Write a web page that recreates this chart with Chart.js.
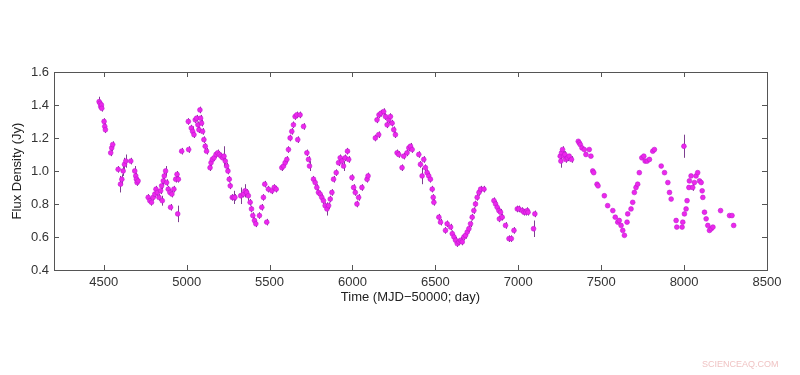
<!DOCTYPE html>
<html>
<head>
<meta charset="utf-8">
<script src="https://cdn.jsdelivr.net/npm/chart.js@4"></script>
<style>
  html, body { margin: 0; padding: 0; background: #fff; }
  #wrap { position: relative; width: 800px; height: 375px; }
  #mark { position: absolute; left: 702px; top: 359px; font: 9px "Liberation Sans", Arial, sans-serif; line-height: 10px; color: #f0c4c4; }
</style>
</head>
<body>
<div id="wrap">
  <canvas id="fluxChart" width="800" height="375"></canvas>
  <div id="mark">SCIENCEAQ.COM</div>
</div>
<script>
const days = [
  4472, 4478, 4482, 4486, 4488, 4502, 4506, 4510, 4542, 4548,
  4554, 4587, 4601, 4609, 4617, 4625, 4633, 4663, 4687, 4693,
  4697, 4701, 4707, 4768, 4778, 4788, 4798, 4808, 4815, 4823,
  4833, 4843, 4849, 4853, 4859, 4865, 4873, 4879, 4889, 4899,
  4903, 4911, 4923, 4934, 4942, 4946, 4950, 4970, 5010, 5012,
  5028, 5036, 5044, 5052, 5060, 5068, 5074, 5080, 5084, 5090,
  5096, 5104, 5112, 5120, 5141, 5147, 5155, 5165, 5177, 5187,
  5197, 5207, 5217, 5225, 5233, 5241, 5249, 5257, 5263, 5275,
  5283, 5291, 5326, 5342, 5352, 5362, 5372, 5383, 5391, 5399,
  5409, 5417, 5439, 5453, 5463, 5471, 5483, 5493, 5514, 5528,
  5540, 5574, 5584, 5594, 5604, 5614, 5624, 5634, 5644, 5654,
  5664, 5670, 5684, 5705, 5725, 5735, 5741, 5765, 5775, 5785,
  5795, 5805, 5815, 5825, 5835, 5846, 5856, 5866, 5876, 5886,
  5902, 5916, 5926, 5936, 5946, 5956, 5970, 5977, 5997, 6007,
  6017, 6027, 6037, 6057, 6088, 6094, 6138, 6148, 6158, 6160,
  6172, 6188, 6199, 6209, 6219, 6229, 6239, 6249, 6259, 6269,
  6279, 6299, 6309, 6329, 6340, 6350, 6360, 6400, 6410, 6420,
  6430, 6440, 6450, 6460, 6470, 6481, 6487, 6491, 6521, 6531,
  6561, 6571, 6592, 6602, 6612, 6622, 6632, 6642, 6652, 6662,
  6672, 6682, 6692, 6702, 6712, 6722, 6732, 6742, 6752, 6763,
  6773, 6793, 6853, 6863, 6873, 6883, 6886, 6893, 6903, 6923,
  6944, 6958, 6974, 6994, 7004, 7024, 7034, 7045, 7054, 7059,
  7092, 7100, 7253, 7257, 7261, 7267, 7273, 7281, 7287, 7297,
  7307, 7321, 7362, 7368, 7374, 7384, 7398, 7408, 7428, 7438,
  7449, 7455, 7475, 7481, 7519, 7539, 7570, 7585, 7600, 7609,
  7620, 7630, 7640, 7656, 7660, 7680, 7690, 7700, 7710, 7720,
  7730, 7745, 7757, 7765, 7777, 7791, 7811, 7821, 7862, 7882,
  7902, 7912, 7922, 7952, 7956, 7988, 7992, 7999, 8002, 8012,
  8018, 8029, 8032, 8042, 8052, 8062, 8072, 8082, 8093, 8103,
  8109, 8113, 8123, 8133, 8143, 8153, 8164, 8174, 8220, 8274,
  8289, 8299
];
const flux = [
  1.42, 1.41, 1.39, 1.40, 1.38, 1.30, 1.27, 1.25, 1.11, 1.14,
  1.16, 1.01, 0.92, 0.95, 1.00, 1.04, 1.06, 1.06, 1.00, 0.97,
  0.95, 0.93, 0.94, 0.84, 0.82, 0.81, 0.84, 0.86, 0.89, 0.87,
  0.84, 0.88, 0.91, 0.82, 0.94, 0.97, 1.00, 0.93, 0.89, 0.87,
  0.78, 0.86, 0.89, 0.95, 0.98, 0.74, 0.95, 1.12, 1.30, 1.13,
  1.26, 1.24, 1.22, 1.31, 1.32, 1.28, 1.25, 1.37, 1.32, 1.29,
  1.24, 1.19, 1.15, 1.12, 1.02, 1.05, 1.07, 1.08, 1.10, 1.11,
  1.10, 1.09, 1.08, 1.09, 1.06, 1.03, 1.00, 0.95, 0.91, 0.84,
  0.84, 0.84, 0.85, 0.86, 0.88, 0.87, 0.85, 0.81, 0.77, 0.73,
  0.70, 0.68, 0.73, 0.78, 0.84, 0.92, 0.69, 0.89, 0.88, 0.90,
  0.89, 1.02, 1.03, 1.05, 1.07, 1.13, 1.20, 1.24, 1.28, 1.33,
  1.34, 1.19, 1.34, 1.27, 1.11, 1.07, 1.03, 0.95, 0.93, 0.90,
  0.87, 0.86, 0.84, 0.82, 0.79, 0.77, 0.79, 0.83, 0.87, 0.95,
  0.99, 1.05, 1.08, 1.06, 1.03, 1.08, 1.12, 1.07, 0.96, 0.90,
  0.87, 0.80, 0.84, 0.90, 0.95, 0.97, 1.20, 1.31, 1.22, 1.34,
  1.35, 1.36, 1.33, 1.28, 1.31, 1.33, 1.29, 1.25, 1.22, 1.11,
  1.10, 1.02, 1.09, 1.11, 1.14, 1.15, 1.13, 1.10, 1.04, 0.97,
  1.07, 1.02, 0.99, 0.97, 0.95, 0.89, 0.84, 0.81, 0.72, 0.69,
  0.64, 0.68, 0.66, 0.62, 0.60, 0.58, 0.56, 0.57, 0.58, 0.57,
  0.60, 0.61, 0.63, 0.65, 0.68, 0.72, 0.76, 0.80, 0.84, 0.87,
  0.89, 0.89, 0.82, 0.80, 0.78, 0.76, 0.71, 0.75, 0.72, 0.67,
  0.59, 0.59, 0.64, 0.77, 0.77, 0.76, 0.75, 0.75, 0.76, 0.75,
  0.65, 0.74, 1.09, 1.06, 1.11, 1.13, 1.09, 1.10, 1.07, 1.08,
  1.09, 1.07, 1.18, 1.17, 1.16, 1.14, 1.13, 1.10, 1.13, 1.09,
  1.00, 0.99, 0.92, 0.91, 0.85, 0.79, 0.76, 0.72, 0.69, 0.70,
  0.67, 0.64, 0.61, 0.69, 0.74, 0.77, 0.81, 0.87, 0.90, 0.92,
  0.99, 1.08, 1.09, 1.06, 1.06, 1.07, 1.12, 1.13, 1.03, 0.99,
  0.93, 0.87, 0.83, 0.70, 0.66, 0.66, 0.69, 1.15, 0.74, 0.77,
  0.82, 0.90, 0.94, 0.97, 0.90, 0.93, 0.97, 0.99, 0.94, 0.93,
  0.88, 0.84, 0.75, 0.71, 0.67, 0.64, 0.65, 0.66, 0.76, 0.73,
  0.73, 0.67
];
const fluxErr = [
  0.03, 0.02, 0.02, 0.02, 0.02, 0.02, 0.02, 0.02, 0.02, 0.02,
  0.02, 0.02, 0.05, 0.03, 0.03, 0.04, 0.04, 0.02, 0.03, 0.02,
  0.02, 0.02, 0.02, 0.02, 0.02, 0.02, 0.02, 0.02, 0.02, 0.02,
  0.02, 0.02, 0.02, 0.03, 0.03, 0.04, 0.03, 0.02, 0.02, 0.02,
  0.02, 0.02, 0.02, 0.02, 0.02, 0.05, 0.02, 0.02, 0.02, 0.02,
  0.02, 0.03, 0.02, 0.02, 0.02, 0.02, 0.02, 0.02, 0.02, 0.02,
  0.02, 0.02, 0.02, 0.02, 0.02, 0.02, 0.02, 0.02, 0.02, 0.02,
  0.02, 0.02, 0.02, 0.06, 0.02, 0.02, 0.02, 0.02, 0.02, 0.02,
  0.04, 0.02, 0.05, 0.02, 0.04, 0.02, 0.03, 0.02, 0.02, 0.02,
  0.02, 0.02, 0.02, 0.02, 0.02, 0.02, 0.02, 0.02, 0.02, 0.02,
  0.02, 0.02, 0.02, 0.02, 0.02, 0.02, 0.02, 0.02, 0.02, 0.02,
  0.02, 0.02, 0.02, 0.02, 0.02, 0.02, 0.03, 0.02, 0.02, 0.02,
  0.02, 0.02, 0.02, 0.02, 0.02, 0.04, 0.02, 0.02, 0.02, 0.02,
  0.02, 0.02, 0.02, 0.02, 0.03, 0.02, 0.02, 0.02, 0.02, 0.02,
  0.02, 0.02, 0.02, 0.02, 0.02, 0.02, 0.02, 0.02, 0.02, 0.02,
  0.02, 0.02, 0.02, 0.02, 0.02, 0.02, 0.02, 0.02, 0.02, 0.02,
  0.02, 0.02, 0.02, 0.02, 0.02, 0.02, 0.02, 0.02, 0.02, 0.05,
  0.02, 0.02, 0.02, 0.02, 0.02, 0.02, 0.02, 0.02, 0.02, 0.02,
  0.02, 0.02, 0.02, 0.02, 0.02, 0.02, 0.02, 0.02, 0.02, 0.02,
  0.02, 0.02, 0.02, 0.02, 0.02, 0.02, 0.02, 0.02, 0.02, 0.02,
  0.02, 0.02, 0.02, 0.02, 0.02, 0.02, 0.02, 0.02, 0.02, 0.02,
  0.02, 0.02, 0.02, 0.02, 0.02, 0.02, 0.02, 0.02, 0.02, 0.02,
  0.05, 0.02, 0.02, 0.04, 0.02, 0.02, 0.03, 0.02, 0.02, 0.02,
  0.01, 0.02, 0.01, 0.01, 0.01, 0.01, 0.01, 0.01, 0.01, 0.01,
  0.01, 0.01, 0.01, 0.01, 0.01, 0.01, 0.01, 0.01, 0.01, 0.01,
  0.01, 0.01, 0.01, 0.01, 0.01, 0.01, 0.01, 0.01, 0.01, 0.01,
  0.01, 0.01, 0.01, 0.01, 0.01, 0.01, 0.01, 0.01, 0.01, 0.01,
  0.01, 0.01, 0.01, 0.01, 0.01, 0.01, 0.01, 0.07, 0.01, 0.01,
  0.01, 0.01, 0.01, 0.01, 0.02, 0.01, 0.01, 0.01, 0.01, 0.01,
  0.01, 0.01, 0.01, 0.01, 0.01, 0.01, 0.01, 0.01, 0.01, 0.01,
  0.01, 0.01
];
const xTicks = [4500, 5000, 5500, 6000, 6500, 7000, 7500, 8000, 8500];
const yTicks = [0.4, 0.6, 0.8, 1.0, 1.2, 1.4, 1.6];

const FONT = '"Liberation Sans", Arial, sans-serif';

// vertical error bars, drawn under the markers
const errorBars = {
  id: 'errorBars',
  beforeDatasetsDraw(chart) {
    const { ctx, scales: { x, y } } = chart;
    ctx.save();
    ctx.strokeStyle = '#7d3f8f';
    ctx.lineWidth = 1;
    ctx.beginPath();
    days.forEach((d, i) => {
      const px = Math.round(x.getPixelForValue(d)) + 0.5;
      ctx.moveTo(px, y.getPixelForValue(flux[i] - fluxErr[i]));
      ctx.lineTo(px, y.getPixelForValue(flux[i] + fluxErr[i]));
    });
    ctx.stroke();
    ctx.restore();
  }
};

// box around the plot with inward tick marks on all four sides
const frame = {
  id: 'frame',
  afterDraw(chart) {
    const { ctx, chartArea: a, scales: { x, y } } = chart;
    const len = 5;
    ctx.save();
    ctx.strokeStyle = '#555';
    ctx.lineWidth = 1;
    ctx.strokeRect(Math.round(a.left) + 0.5, Math.round(a.top) + 0.5,
      Math.round(a.right - a.left), Math.round(a.bottom - a.top));
    ctx.beginPath();
    x.ticks.forEach(t => {
      const px = Math.round(x.getPixelForValue(t.value)) + 0.5;
      ctx.moveTo(px, a.bottom); ctx.lineTo(px, a.bottom - len);
      ctx.moveTo(px, a.top); ctx.lineTo(px, a.top + len);
    });
    y.ticks.forEach(t => {
      const py = Math.round(y.getPixelForValue(t.value)) + 0.5;
      ctx.moveTo(a.left, py); ctx.lineTo(a.left + len, py);
      ctx.moveTo(a.right, py); ctx.lineTo(a.right - len, py);
    });
    ctx.stroke();
    ctx.restore();
  }
};

const ctx = document.getElementById('fluxChart').getContext('2d');
const fluxChart = new Chart(ctx, {
  type: 'scatter',
  data: {
    datasets: [{
      label: 'Flux Density',
      data: days.map((d, i) => ({ x: d, y: flux[i] })),
      pointRadius: 2.4,
      pointBackgroundColor: '#ec28ec',
      pointBorderColor: '#c01ad0',
      pointBorderWidth: 0.6
    }]
  },
  options: {
    responsive: false,
    animation: false,
    layout: { padding: { top: 72, right: 33, bottom: 70, left: 0 } },
    plugins: {
      legend: { display: false },
      tooltip: { enabled: false }
    },
    scales: {
      x: {
        type: 'linear',
        min: 4200,
        max: 8500,
        afterBuildTicks: s => { s.ticks = xTicks.map(v => ({ value: v })); },
        afterFit: s => { s.height = 35; },
        grid: { display: false, drawTicks: false },
        border: { display: false },
        ticks: { color: '#333', font: { family: FONT, size: 13 }, padding: 5, maxRotation: 0,
                 callback: v => String(v) },
        title: { display: true, text: 'Time (MJD\u221250000; day)', color: '#222',
                 font: { family: FONT, size: 13 }, padding: 0 }
      },
      y: {
        min: 0.4,
        max: 1.6,
        afterBuildTicks: s => { s.ticks = yTicks.map(v => ({ value: v })); },
        afterFit: s => { s.width = 54; },
        grid: { display: false, drawTicks: false },
        border: { display: false },
        ticks: { color: '#333', font: { family: FONT, size: 13 }, padding: 5,
                 callback: v => Number(v).toFixed(1) },
        title: { display: true, text: 'Flux Density (Jy)', color: '#222',
                 font: { family: FONT, size: 13 }, padding: { top: 10, bottom: 0 } }
      }
    }
  },
  plugins: [errorBars, frame]
});
</script>
</body>
</html>
